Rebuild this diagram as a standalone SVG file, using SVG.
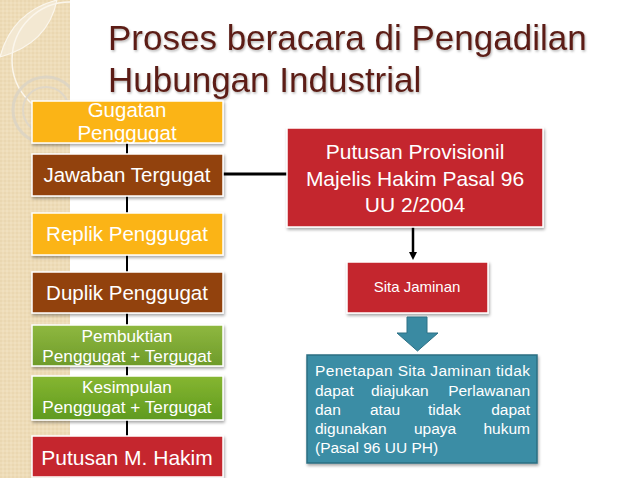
<svg xmlns="http://www.w3.org/2000/svg" width="638" height="478" viewBox="0 0 638 478">
<defs>
<style>
.t{font-family:"Liberation Sans",Arial,sans-serif;fill:#fff;}
.box{stroke:#fff;stroke-width:1.5;filter:url(#sh);}
.title{font-family:"Liberation Sans",Arial,sans-serif;font-size:35px;fill:#5b1f15;filter:url(#tsh);}
.tl{font-family:"Liberation Sans",Arial,sans-serif;font-size:15.5px;fill:#fff;}
.ln{stroke:#000;fill:none;}
</style>
<filter id="sh" x="-10%" y="-10%" width="120%" height="130%">
<feDropShadow dx="1" dy="2" stdDeviation="1.5" flood-color="#000" flood-opacity="0.35"/>
</filter>
<filter id="tsh" x="-5%" y="-10%" width="110%" height="130%">
<feDropShadow dx="1" dy="1.5" stdDeviation="1" flood-color="#000" flood-opacity="0.3"/>
</filter>
<pattern id="dots" width="4" height="4" patternUnits="userSpaceOnUse">
<rect width="4" height="4" fill="#eedcb8"/>
<circle cx="1" cy="1" r="0.7" fill="#e3cfa6"/>
<circle cx="3" cy="3" r="0.7" fill="#f4e7cc"/>
</pattern>
<linearGradient id="g1" x1="0" y1="0" x2="0" y2="1">
<stop offset="0" stop-color="#8fb83f"/>
<stop offset="1" stop-color="#6e9b2b"/>
</linearGradient>
<linearGradient id="g2" x1="0" y1="0" x2="0" y2="1">
<stop offset="0" stop-color="#86b631"/>
<stop offset="1" stop-color="#5f9a1f"/>
</linearGradient>
<marker id="ah" markerWidth="8" markerHeight="8" refX="4" refY="4" orient="auto" markerUnits="userSpaceOnUse">
<path d="M0,0 L8,4 L0,8 z" fill="#000"/>
</marker>
<clipPath id="strip"><rect x="0" y="0" width="70" height="478"/></clipPath>
</defs>

<rect width="638" height="478" fill="#fff"/>
<g id="background">
<rect x="0" y="0" width="70" height="478" fill="url(#dots)"/>
<g clip-path="url(#strip)">
<path d="M0,57 Q12,12 57,0 Q48,44 0,57 z" fill="#f3e8d2" stroke="#fbf6ec" stroke-width="1.2"/>
<circle cx="70" cy="60" r="58" fill="none" stroke="#fbf6ec" stroke-width="1.5"/>
<circle cx="46" cy="110" r="33" fill="none" stroke="#d9d3c6" stroke-width="3" opacity="0.8"/>
<circle cx="46" cy="110" r="23" fill="none" stroke="#dcd6ca" stroke-width="2" opacity="0.8"/>
</g>
</g>

<g id="title">
<text class="title" x="108" y="50">Proses beracara di Pengadilan</text>
<text class="title" x="108" y="92">Hubungan Industrial</text>
</g>

<g id="connectors">
<line class="ln" x1="127" y1="140" x2="127" y2="436" stroke-width="2"/>
<line class="ln" x1="223" y1="174" x2="287" y2="174" stroke-width="3"/>
<line class="ln" x1="413" y1="227" x2="413" y2="256" stroke-width="2.5" marker-end="url(#ah)"/>
</g>

<g id="gugatan">
<rect class="box" x="32" y="101" width="191" height="42" fill="#fbb417"/>
<text class="t" x="127" y="117" font-size="20.5" text-anchor="middle">Gugatan</text>
<text class="t" x="127" y="140" font-size="20.5" text-anchor="middle">Penggugat</text>
</g>
<g id="jawaban">
<rect class="box" x="32" y="154" width="191" height="42" fill="#924209"/>
<text class="t" x="127" y="182" font-size="20.5" text-anchor="middle">Jawaban Tergugat</text>
</g>
<g id="replik">
<rect class="box" x="32" y="213" width="191" height="42" fill="#fbb417"/>
<text class="t" x="127" y="241" font-size="20.5" text-anchor="middle">Replik Penggugat</text>
</g>
<g id="duplik">
<rect class="box" x="32" y="272" width="191" height="41" fill="#924209"/>
<text class="t" x="127" y="300" font-size="20.5" text-anchor="middle">Duplik Penggugat</text>
</g>
<g id="pembuktian">
<rect class="box" x="32" y="325" width="191" height="41" fill="url(#g1)"/>
<text class="t" x="127" y="342" font-size="17.2" text-anchor="middle">Pembuktian</text>
<text class="t" x="127" y="362" font-size="17.2" text-anchor="middle">Penggugat + Tergugat</text>
</g>
<g id="kesimpulan">
<rect class="box" x="32" y="376" width="191" height="44" fill="url(#g2)"/>
<text class="t" x="127" y="393" font-size="17.2" text-anchor="middle">Kesimpulan</text>
<text class="t" x="127" y="413" font-size="17.2" text-anchor="middle">Penggugat + Tergugat</text>
</g>
<g id="putusan-hakim">
<rect class="box" x="32" y="436" width="191" height="41" fill="#c5282e"/>
<text class="t" x="127" y="465" font-size="21" text-anchor="middle">Putusan M. Hakim</text>
</g>

<g id="putusan-provisionil">
<rect class="box" x="287" y="128" width="256" height="99" fill="#c4282e"/>
<text class="t" x="415" y="159" font-size="21" text-anchor="middle">Putusan Provisionil</text>
<text class="t" x="415" y="186" font-size="21" text-anchor="middle">Majelis Hakim Pasal 96</text>
<text class="t" x="415" y="212" font-size="21" text-anchor="middle">UU 2/2004</text>
</g>

<g id="sita-jaminan">
<rect class="box" x="347" y="262" width="141" height="51" fill="#c4282e"/>
<text class="t" x="417" y="292" font-size="15" text-anchor="middle">Sita Jaminan</text>
</g>

<g id="block-arrow">
<path d="M407,317 H427 V333 H438 L417.5,351 L397,333 H407 Z" fill="#3a8aa2" stroke="#2d7085" stroke-width="1"/>
</g>

<g id="penetapan">
<rect x="307" y="355" width="230" height="108" fill="#3b8da5" stroke="#2b6f82" stroke-width="1.5" filter="url(#sh)"/>
<text class="tl" x="315" y="376" textLength="215" lengthAdjust="spacing">Penetapan Sita Jaminan tidak</text>
<text class="tl" y="396"><tspan x="315">dapat</tspan><tspan x="371">diajukan</tspan><tspan x="530" text-anchor="end">Perlawanan</tspan></text>
<text class="tl" y="415"><tspan x="315">dan</tspan><tspan x="370">atau</tspan><tspan x="428">tidak</tspan><tspan x="530" text-anchor="end">dapat</tspan></text>
<text class="tl" y="434"><tspan x="315">digunakan</tspan><tspan x="414">upaya</tspan><tspan x="530" text-anchor="end">hukum</tspan></text>
<text class="tl" x="315" y="453">(Pasal 96 UU PH)</text>
</g>
</svg>
